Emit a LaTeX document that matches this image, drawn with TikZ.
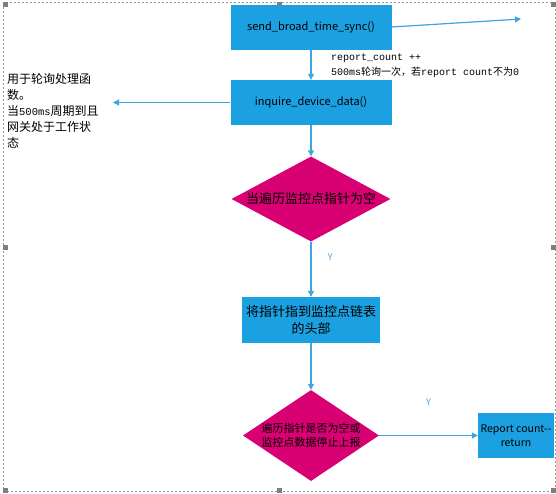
\documentclass[tikz,border=0pt]{standalone}
\usepackage{fontspec}
\setmainfont{Noto Sans CJK SC}
\newfontfamily\cjk{Noto Sans CJK SC}
\newfontfamily\monof{Liberation Mono}
\usepackage{tikz}
\usetikzlibrary{arrows.meta,shapes.geometric}
\definecolor{metroblue}{HTML}{1BA1E2}
\definecolor{metromag}{HTML}{D80073}
\definecolor{linkblue}{HTML}{3DA5E0}
\definecolor{handlegray}{HTML}{7F7F7F}

\begin{document}
\begin{tikzpicture}[x=1pt,y=-1pt,>={Triangle[length=6pt,width=6pt]},
  flowbox/.style={fill=metroblue,minimum width=161pt,minimum height=45pt,inner sep=0pt,
    align=center,font=\fontsize{11}{13}\selectfont},
  decide/.style={diamond,fill=metromag,inner sep=0pt,align=center},
  link/.style={->,draw=linkblue,fill=linkblue,line width=1.2pt},
  yes/.style={text=linkblue,font=\fontsize{9}{10}\selectfont},
  handle/.style={fill=handlegray}]
\useasboundingbox (0,0) rectangle (556,493);
% selection frame
\draw[handlegray!80,dash pattern=on 2pt off 2pt] (3.5,2.5) rectangle (555,491);
\foreach \hx/\hy in {5.5/4.5,279.5/4.5,553.5/4.5,5.5/247.5,553.5/247.5,5.5/490.5,279.5/490.5,553.5/490.5}
  \fill[handle] (\hx-2.5,\hy-2.5) rectangle (\hx+2.5,\hy+2.5);
% flow
\node[flowbox] (sync) at (311,27) {send\_broad\_time\_sync()};
\node[flowbox] (inquire) at (311,102.5) {inquire\_device\_data()};
\node[decide,aspect=1.87,minimum width=159pt,minimum height=85pt,font=\fontsize{13}{15}\selectfont] (empty) at (311,199) {当遍历监控点指针为空};
\node[flowbox,minimum width=138pt,minimum height=46pt,font=\fontsize{13}{16.5}\selectfont] (head) at (311,320) {将指针指到监控点链表\\的头部};
\node[decide,aspect=1.49,minimum width=136pt,minimum height=91pt,font=\fontsize{11}{14}\selectfont] (stop) at (311,435.5) {遍历指针是否为空或\\监控点数据停止上报};
\node[flowbox,minimum width=76pt,minimum height=45pt,font=\fontsize{10.5}{14}\selectfont] (ret) at (516,435.5) {Report count-{}-\\return};
% notes
\node[anchor=west,align=left,inner sep=0pt,font=\monof\fontsize{10}{15}\selectfont] (cnt) at (331,65.5)
  {report\_count ++\\500ms{\cjk 轮询一次，若}report count{\cjk 不为}0};
\node[anchor=north west,align=left,inner sep=0pt,font=\fontsize{12}{16}\selectfont] (note) at (7,73)
  {用于轮询处理函\\数。\\当{\monof\fontsize{10.5}{16}\selectfont 500ms}周期到且\\网关处于工作状\\态};
\coordinate (syncend) at (521,19);
\coordinate (noteend) at (113,102.5);
% connectors
\draw[link] (sync.east) -- (syncend);
\draw[link] (sync) -- (inquire);
\draw[link] (inquire.west) -- (noteend);
\draw[link] (inquire) -- (empty);
\draw[link] (empty) -- node[yes,pos=0.28,right=13pt] {Y} (head);
\draw[link] (head) -- (stop);
\draw[link] (stop) -- node[yes,above=26pt] {Y} (ret);
\end{tikzpicture}
\end{document}
